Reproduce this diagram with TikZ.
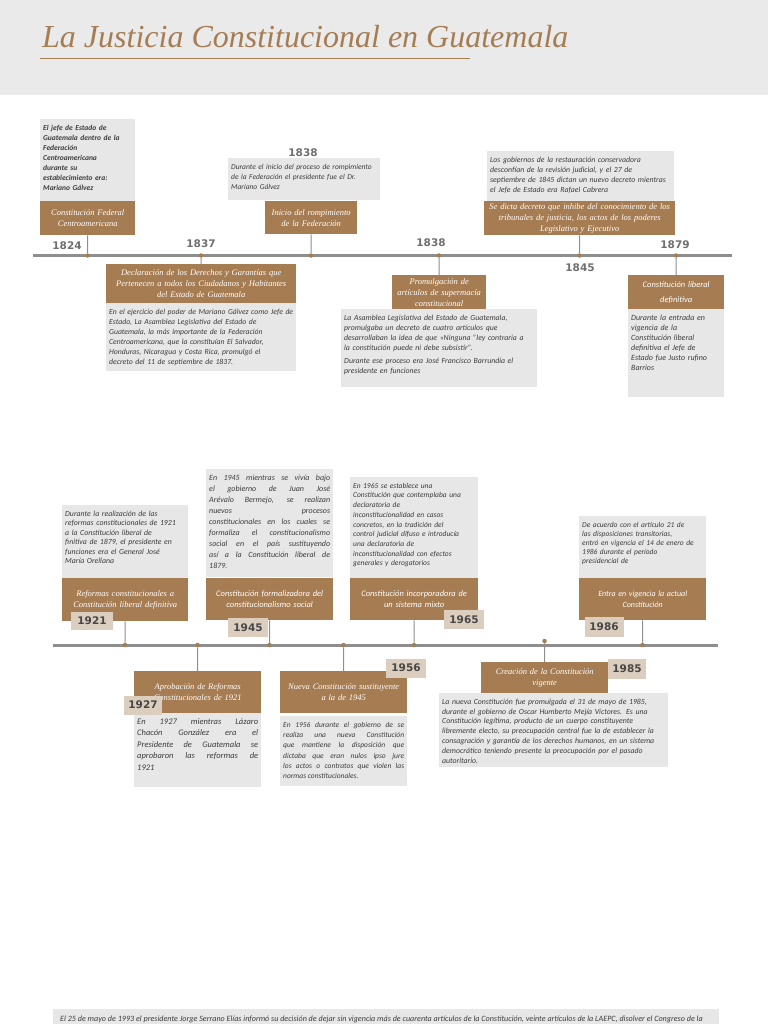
\documentclass[tikz,border=0pt]{standalone}
\usepackage{fontspec}
\setmainfont{Carlito}
\newfontfamily\serifit{Liberation Serif}
\newfontfamily\yearfont{DejaVu Sans}

\definecolor{cafe}{HTML}{A67C52}
\definecolor{boxgray}{HTML}{E7E7E7}
\definecolor{bandgray}{HTML}{EAEAEA}
\definecolor{linegray}{HTML}{8E8E8E}
\definecolor{yeargray}{HTML}{6F6F6F}
\definecolor{tagtan}{HTML}{DCCEBF}
\definecolor{txtgray}{HTML}{3C3C3C}

\tikzset{
  graybox/.style={fill=boxgray, anchor=north west, inner xsep=3pt, inner ysep=4pt,
    text=txtgray, align=left, text height=7pt, text depth=#1,
    font=\fontsize{7.5}{10}\selectfont\itshape},
  brownbox/.style={fill=cafe, anchor=north west, text=white, align=center, inner sep=2pt,
    font=\serifit\fontsize{8.5}{11}\selectfont\itshape},
  brownsans/.style={brownbox, font=\fontsize{8.5}{11}\selectfont\itshape},
  yearlbl/.style={font=\yearfont\bfseries\fontsize{10.5}{12}\selectfont, text=yeargray, inner sep=0pt},
  yeartag/.style={fill=tagtan, font=\yearfont\bfseries\fontsize{10.5}{12}\selectfont, text=black!72, inner sep=0pt},
  dot/.style={circle, fill=cafe, inner sep=0pt, minimum size=4.5pt},
  conn/.style={draw=linegray, line width=1pt},
  timeline/.style={draw=linegray, line width=3pt}
}

\begin{document}
\begin{tikzpicture}[x=1pt,y=-1pt]
\useasboundingbox (0,0) rectangle (768,1024);

% encabezado
\fill[bandgray] (0,0) rectangle (768,95);
\node[anchor=base west, inner sep=0pt, text=cafe, font=\serifit\itshape\fontsize{32}{36}\selectfont] (titulo) at (42,48) {La Justicia Constitucional en Guatemala};
\coordinate (rayaA) at (40,58);
\coordinate (rayaB) at (470,58);
\draw[cafe, line width=0.8pt] (rayaA) -- (rayaB);

% lineas de tiempo
\coordinate (l1a) at (33,255.5);
\coordinate (l1b) at (732,255.5);
\coordinate (l2a) at (53,645);
\coordinate (l2b) at (718,645);
\draw[timeline] (l1a) -- (l1b);
\draw[timeline] (l2a) -- (l2b);

\foreach \x/\n in {87.5/dA, 201/dB, 311/dC, 439/dD, 579.5/dE, 676/dF}
{
\node[dot] (\n) at (\x,255.5) {};
}
\foreach \x/\n in {125/da, 197.5/de, 269.5/db, 343.5/df, 414/dc, 642.5/dd}
{
\node[dot] (\n) at (\x,645) {};
}
\node[dot] (dg) at (544.5,641) {};

% primera fila
\node[graybox=67pt, text width=89pt, font=\fontsize{7.5}{10}\selectfont\bfseries\itshape] (gA) at (40,119) {El jefe de Estado de\\Guatemala dentro de la\\Federación\\Centroamericana\\durante su\\establecimiento era:\\Mariano Gálvez};
\node[brownbox, minimum width=95pt, minimum height=34pt, text width=91pt] (bA) at (40,201) {Constitución Federal\\Centroamericana};
\node[yearlbl] (y1824) at (67,246) {1824};

\node[yearlbl] (y1837) at (201,244) {1837};
\node[brownbox, minimum width=190pt, minimum height=39pt, text width=186pt] (bB) at (106,264) {Declaración de los Derechos y Garantías que\\Pertenecen a todos los Ciudadanos y Habitantes\\del Estado de Guatemala};
\node[graybox=53pt, text width=184pt, font=\fontsize{7.7}{10}\selectfont\itshape] (gB) at (106,303) {En el ejercicio del poder de Mariano Gálvez como Jefe de\\Estado, La Asamblea Legislativa del Estado de\\Guatemala, la más importante de la Federación\\Centroamericana, que la constituían El Salvador,\\Honduras, Nicaragua y Costa Rica, promulgó el\\decreto del 11 de septiembre de 1837.};

\node[yearlbl] (y1838a) at (303,153) {1838};
\node[graybox=27pt, text width=146pt] (gC) at (228,158) {Durante el inicio del proceso de rompimiento\\de la Federación el presidente fue el Dr.\\Mariano Gálvez};
\node[brownbox, minimum width=92pt, minimum height=33pt, text width=88pt] (bC) at (265,201) {Inicio del rompimiento\\de la Federación};

\node[yearlbl] (y1838b) at (431,243) {1838};
\node[brownbox, minimum width=94pt, minimum height=34pt, text width=90pt] (bD) at (392,275) {Promulgación de\\artículos de supermacía\\constitucional};
\node[graybox=63pt, text width=190pt, font=\fontsize{7.8}{10}\selectfont\itshape] (gD) at (341,309) {La Asamblea Legislativa del Estado de Guatemala,\\promulgaba un decreto de cuatro artículos que\\desarrollaban la idea de que «Ninguna "ley contraria a\\la constitución puede ni debe subsistir".\\[3pt]Durante ese proceso era José Francisco Barrundia el\\presidente en funciones};

\node[graybox=35pt, text width=181pt, font=\fontsize{7.8}{10}\selectfont\itshape] (gE) at (487,151) {Los gobiernos de la restauración conservadora\\desconfían de la revisión judicial, y el 27 de\\septiembre de 1845 dictan un nuevo decreto mientras\\el Jefe de Estado era Rafael Cabrera};
\node[brownbox, minimum width=191pt, minimum height=34pt, text width=187pt] (bE) at (484,201) {Se dicta decreto que inhibe del conocimiento de los\\tribunales de justicia, los actos de los poderes\\Legislativo y Ejecutivo};
\node[yearlbl] (y1845) at (580,268) {1845};

\node[yearlbl] (y1879) at (675,245) {1879};
\node[brownsans, minimum width=96pt, minimum height=34pt, text width=92pt, font=\fontsize{8.5}{15}\selectfont\itshape] (bF) at (628,275) {Constitución liberal\\definitiva};
\node[graybox=73pt, text width=90pt, font=\fontsize{8}{10}\selectfont\itshape] (gF) at (628,309) {Durante la entrada en\\vigencia de la\\Constitución liberal\\definitiva el Jefe de\\Estado fue Justo rufino\\Barrios};

% segunda fila, arriba
\node[graybox=58pt, text width=120pt, font=\fontsize{7.8}{9.5}\selectfont\itshape] (ga) at (62,505) {Durante la realización de las\\reformas constitucionales de 1921\\a la Constitución liberal de\\finitiva de 1879, el presidente en\\funciones era el General José\\María Orellana};
\node[brownbox, minimum width=126pt, minimum height=43pt, text width=122pt] (ba) at (62,578) {Reformas constitucionales a\\Constitución liberal definitiva};

\node[graybox=93pt, text width=121pt, align=justify, font=\fontsize{8}{11}\selectfont\itshape] (gb) at (206,469) {En 1945 mientras se vivía bajo\linebreak el gobierno de Juan José\linebreak Arévalo Bermejo, se realizan\linebreak nuevos procesos\linebreak constitucionales en los cuales se\linebreak formaliza el constitucionalismo\linebreak social en el país sustituyendo\linebreak así a la Constitución liberal de\linebreak 1879.};
\node[brownsans, minimum width=127pt, minimum height=42pt, text width=123pt] (bb) at (206,578) {Constitución formalizadora del\\constitucionalismo social};

\node[graybox=86pt, text width=122pt, font=\fontsize{7.5}{9.7}\selectfont\itshape] (gc) at (350,477) {En 1965 se establece una\\Constitución que contemplaba una\\declaratoria de\\inconstitucionalidad en casos\\concretos, en la tradición del\\control judicial difuso e introducía\\una declaratoria de\\inconstitucionalidad con efectos\\generales y derogatorios};
\node[brownsans, minimum width=128pt, minimum height=42pt, text width=124pt] (bc) at (350,578) {Constitución incorporadora de\\un sistema mixto};

\node[graybox=47pt, text width=121pt, font=\fontsize{7.5}{9}\selectfont\itshape] (gd) at (579,516) {De acuerdo con el artículo 21 de\\las disposiciones transitorias,\\entró en vigencia el 14 de enero de\\1986 durante el período\\presidencial de};
\node[brownsans, minimum width=127pt, minimum height=42pt, text width=123pt, font=\fontsize{8}{11}\selectfont\itshape] (bd) at (579,578) {Entra en vigencia la actual\\Constitución};

% segunda fila, abajo
\node[brownbox, minimum width=127pt, minimum height=42pt, text width=123pt] (be) at (134,671) {Aprobación de Reformas\\Constitucionales de 1921};
\node[graybox=59pt, text width=121pt, align=justify, font=\fontsize{8.5}{11.5}\selectfont\itshape] (ge) at (134,713) {En 1927 mientras Lázaro\linebreak Chacón González era el\linebreak Presidente de Guatemala se\linebreak aprobaron las reformas de\linebreak 1921};

\node[brownbox, minimum width=127pt, minimum height=42pt, text width=123pt] (bf) at (280,671) {Nueva Constitución sustituyente\\a la de 1945};
\node[graybox=55pt, text width=121pt, align=justify, font=\fontsize{7.5}{10.3}\selectfont\itshape] (gf) at (280,716) {En 1956 durante el gobierno de se\linebreak realiza una nueva Constitución\linebreak que mantiene la disposición que\linebreak dictaba que eran nulos ipso jure\linebreak los actos o contratos que violen las\linebreak normas constitucionales.};

\node[brownbox, minimum width=127pt, minimum height=32pt, text width=123pt] (bg) at (481,662) {Creación de la Constitución\\vigente};
\node[graybox=59pt, text width=223pt, font=\fontsize{7.8}{9.8}\selectfont\itshape] (gg) at (439,693) {La nueva Constitución fue promulgada el 31 de mayo de 1985,\\durante el gobierno de Oscar Humberto Mejía Victores. Es una\\Constitución legítima, producto de un cuerpo constituyente\\libremente electo, su preocupación central fue la de establecer la\\consagración y garantía de los derechos humanos, en un sistema\\democrático teniendo presente la preocupación por el pasado\\autoritario.};

% conectores
\foreach \b/\d in {bA/dA, bB/dB, bC/dC, bD/dD, bE/dE, bF/dF, ba/da, bb/db, bc/dc, bd/dd, be/de, bf/df, bg/dg}
{
\draw[conn] (\b) -- (\d);
}

% etiquetas de año
\node[yeartag, minimum width=42pt, minimum height=18pt] (t1921) at (92,621) {1921};
\node[yeartag, minimum width=40pt, minimum height=19pt] (t1945) at (248,627.5) {1945};
\node[yeartag, minimum width=40pt, minimum height=19pt] (t1965) at (464,619.5) {1965};
\node[yeartag, minimum width=39pt, minimum height=20pt] (t1986) at (604,626.5) {1986};
\node[yeartag, minimum width=38pt, minimum height=19pt] (t1927) at (143,705) {1927};
\node[yeartag, minimum width=40pt, minimum height=19pt] (t1956) at (406,668) {1956};
\node[yeartag, minimum width=38pt, minimum height=20pt] (t1985) at (627,669) {1985};

% pie
\fill[boxgray] (53,1009) rectangle (719,1024);
\node[anchor=base west, inner sep=0pt, text=txtgray, font=\fontsize{8.1}{9}\selectfont\itshape] (pie) at (60,1021) {El 25 de mayo de 1993 el presidente Jorge Serrano Elías informó su decisión de dejar sin vigencia más de cuarenta artículos de la Constitución, veinte artículos de la LAEPC, disolver el Congreso de la};
\end{tikzpicture}
\end{document}
